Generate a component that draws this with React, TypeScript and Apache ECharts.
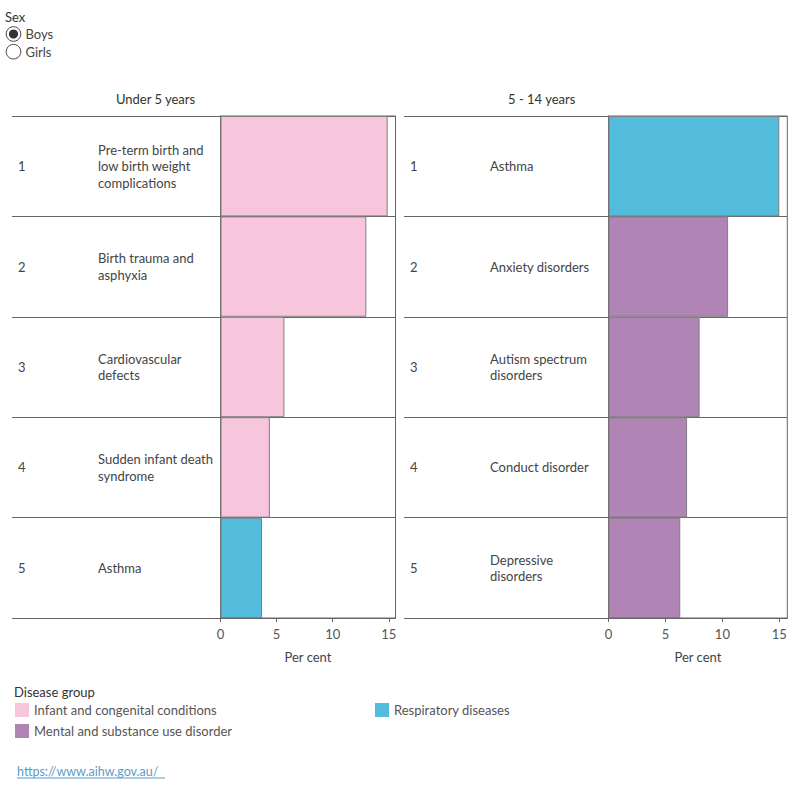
import React, { useEffect, useRef } from "react";
import * as echarts from "echarts";

const FONT = "Lato, 'Noto Sans', sans-serif";
const FS = 13;

const ranks = ["1", "2", "3", "4", "5"];

const GROUP_INFANT = "Infant and congenital conditions";
const GROUP_MENTAL = "Mental and substance use disorder";
const GROUP_RESP = "Respiratory diseases";
const groupNames = [GROUP_INFANT, GROUP_MENTAL, GROUP_RESP];
const groupColors = ["#F7C5DC", "#B084B5", "#53BBDC"];

const under5Labels = [
  "Pre-term birth and\nlow birth weight\ncomplications",
  "Birth trauma and\nasphyxia",
  "Cardiovascular\ndefects",
  "Sudden infant death\nsyndrome",
  "Asthma",
];
const under5Values = [14.9, 13.0, 5.7, 4.4, 3.7];
const under5Groups = [GROUP_INFANT, GROUP_INFANT, GROUP_INFANT, GROUP_INFANT, GROUP_RESP];

const age514Labels = [
  "Asthma",
  "Anxiety disorders",
  "Autism spectrum\ndisorders",
  "Conduct disorder",
  "Depressive\ndisorders",
];
const age514Values = [15.0, 10.5, 8.0, 6.9, 6.3];
const age514Groups = [GROUP_RESP, GROUP_MENTAL, GROUP_MENTAL, GROUP_MENTAL, GROUP_MENTAL];

const panelTitles = ["Under 5 years", "5 - 14 years"];
const xTicks = [0, 5, 10, 15];
const xMax = [15.6, 15.7];
const xName = "Per cent";

const LINE = "#666666";
const TEXT = "#444444";

function buildOption() {
  const panels = [
    { labels: under5Labels, values: under5Values, groups: under5Groups },
    { labels: age514Labels, values: age514Values, groups: age514Groups },
  ];
  const grids = [
    { left: 12, width: 208.5, top: 116, height: 502 },
    { left: 220.5, width: 175, top: 116, height: 502 },
    { left: 404, width: 204.5, top: 116, height: 502 },
    { left: 608.5, width: 178.8, top: 116, height: 502 },
  ];
  const xAxis: any[] = [];
  const yAxis: any[] = [];
  const series: any[] = [];

  panels.forEach((p, pi) => {
    const labelGrid = pi * 2;
    const barGrid = pi * 2 + 1;
    xAxis.push({ type: "value", gridIndex: labelGrid, show: false, min: 0, max: 1 });
    yAxis.push({
      type: "category",
      gridIndex: labelGrid,
      data: ranks,
      inverse: true,
      position: "left",
      axisLine: { show: false },
      axisTick: { show: false },
      splitLine: { show: true, lineStyle: { color: LINE, width: 1 } },
      axisLabel: {
        inside: true,
        margin: 6,
        align: "left",
        color: TEXT,
        fontFamily: FONT,
        fontSize: FS,
      },
    });
    yAxis.push({
      type: "category",
      gridIndex: labelGrid,
      data: p.labels,
      inverse: true,
      position: "left",
      axisLine: { show: false },
      axisTick: { show: false },
      splitLine: { show: false },
      axisLabel: {
        inside: true,
        margin: 86,
        align: "left",
        color: TEXT,
        fontFamily: FONT,
        fontSize: FS,
        lineHeight: 16.5,
      },
    });
    xAxis.push({
      type: "value",
      gridIndex: barGrid,
      min: 0,
      max: xMax[pi],
      interval: 5,
      name: xName,
      nameLocation: "middle",
      nameGap: 32,
      nameTextStyle: { color: TEXT, fontFamily: FONT, fontSize: FS },
      axisLine: { show: true, lineStyle: { color: LINE, width: 1 } },
      axisTick: { show: true, length: 4, lineStyle: { color: LINE }, customValues: xTicks },
      axisLabel: {
        margin: 9,
        color: "#555555",
        fontFamily: FONT,
        fontSize: FS,
        customValues: xTicks,
        formatter: (v: number) => String(v),
      },
      splitLine: { show: false },
    });
    const barY = yAxis.length;
    yAxis.push({
      type: "category",
      gridIndex: barGrid,
      data: ranks,
      inverse: true,
      axisLine: { show: true, lineStyle: { color: LINE, width: 1 } },
      axisTick: { show: false },
      axisLabel: { show: false },
      splitLine: { show: true, lineStyle: { color: LINE, width: 1 } },
    });
    groupNames.forEach((g, gi) => {
      series.push({
        type: "bar",
        name: g,
        xAxisIndex: barGrid,
        yAxisIndex: barY,
        stack: "panel" + pi,
        barCategoryGap: "0%",
        itemStyle: { color: groupColors[gi], borderColor: "#7f7f7f", borderWidth: 1 },
        data: p.values.map((v, i) => (p.groups[i] === g ? v : "-")),
      });
    });
  });

  const gridOpts = grids.map((g, i) => ({
    ...g,
    containLabel: false,
    show: i % 2 === 1,
    borderColor: LINE,
    borderWidth: 1,
    backgroundColor: "transparent",
  }));

  const legendBase = {
    orient: "vertical",
    top: 703,
    itemWidth: 14,
    itemHeight: 14,
    itemGap: 7,
    icon: "rect",
    padding: 0,
    selectedMode: false,
    itemStyle: { borderWidth: 0 },
    textStyle: { color: "#555555", fontFamily: FONT, fontSize: FS },
  };

  const f = `${FS}px ${FONT}`;
  const graphic: any[] = [
    { type: "text", x: 5, y: 17, style: { text: "Sex", fill: "#333", font: f, verticalAlign: "middle" } },
    { type: "circle", shape: { cx: 13.5, cy: 34, r: 7.3 }, style: { fill: "#fff", stroke: "#444", lineWidth: 1 } },
    { type: "circle", shape: { cx: 13.5, cy: 34, r: 4.6 }, style: { fill: "#333" } },
    { type: "text", x: 25.5, y: 34, style: { text: "Boys", fill: "#444", font: f, verticalAlign: "middle" } },
    { type: "circle", shape: { cx: 13.5, cy: 51.7, r: 7.3 }, style: { fill: "#fff", stroke: "#444", lineWidth: 1 } },
    { type: "text", x: 25.5, y: 51.7, style: { text: "Girls", fill: "#444", font: f, verticalAlign: "middle" } },
    { type: "text", x: 155.5, y: 99, style: { text: panelTitles[0], fill: "#333", font: f, align: "center", verticalAlign: "middle" } },
    { type: "text", x: 541.7, y: 99, style: { text: panelTitles[1], fill: "#333", font: f, align: "center", verticalAlign: "middle" } },
    { type: "text", x: 14, y: 692, style: { text: "Disease group", fill: "#333", font: f, verticalAlign: "middle" } },
    { type: "text", x: 17, y: 771, style: { text: "https://www.aihw.gov.au/", fill: "#5b9bc9", font: `12.5px ${FONT}`, verticalAlign: "middle" } },
    { type: "line", shape: { x1: 17, y1: 778, x2: 165, y2: 778 }, style: { stroke: "#5b9bc9", lineWidth: 1 } },
  ];

  return {
    animation: false,
    backgroundColor: "#ffffff",
    textStyle: { fontFamily: FONT },
    grid: gridOpts,
    xAxis,
    yAxis,
    series,
    legend: [
      { ...legendBase, left: 15, data: [GROUP_INFANT, GROUP_MENTAL] },
      { ...legendBase, left: 375, data: [GROUP_RESP] },
    ],
    graphic,
  };
}

export default function App() {
  const ref = useRef<HTMLDivElement>(null);
  useEffect(() => {
    if (!ref.current) return;
    const chart = echarts.init(ref.current, undefined, { renderer: "svg" });
    chart.setOption(buildOption() as any);
    return () => chart.dispose();
  }, []);
  return (
    <div
      ref={ref}
      style={{ position: "absolute", left: 0, top: 0, width: 800, height: 800 }}
    />
  );
}
